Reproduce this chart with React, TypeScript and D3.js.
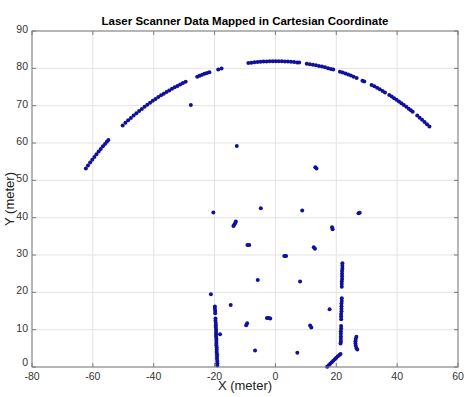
import React from "react";
import * as d3 from "d3";

// scanner readings, [x, y] in meters
const arcPoints: [number, number][] = [
  [-62.3, 53.16], [-61.6, 53.97], [-60.9, 54.76], [-60.2, 55.53], [-59.5, 56.28], [-58.8, 57.01],
  [-58.1, 57.72], [-57.4, 58.42], [-56.7, 59.1], [-56.0, 59.76], [-55.4, 60.32], [-54.9, 60.78],
  [-50.2, 64.71], [-49.3, 65.4], [-48.4, 66.07], [-47.5, 66.72], [-46.6, 67.35], [-45.7, 67.96],
  [-44.8, 68.56], [-43.9, 69.14], [-43.0, 69.7], [-42.1, 70.25], [-41.2, 70.78], [-40.3, 71.3],
  [-39.4, 71.8], [-38.5, 72.29], [-37.6, 72.76], [-36.7, 73.22], [-35.8, 73.66], [-34.9, 74.09],
  [-34.0, 74.51], [-33.1, 74.91], [-32.2, 75.3], [-31.3, 75.68], [-30.4, 76.05], [-29.5, 76.4],
  [-25.7, 77.76], [-24.9, 78.02], [-24.1, 78.27], [-23.3, 78.52], [-22.5, 78.75], [-21.7, 78.97],
  [-18.8, 79.71], [-17.7, 79.96],
  [-8.9, 81.42], [-7.9, 81.52], [-6.9, 81.61], [-5.9, 81.69], [-4.9, 81.75], [-3.9, 81.81],
  [-2.9, 81.85], [-1.9, 81.88], [-0.9, 81.9], [0.1, 81.9], [1.1, 81.89], [2.1, 81.87],
  [3.1, 81.84], [4.1, 81.8], [5.1, 81.74], [6.1, 81.67], [7.1, 81.59], [7.8, 81.53],
  [10.3, 81.25], [11.3, 81.12], [12.3, 80.97], [13.3, 80.81], [14.3, 80.64], [15.3, 80.46],
  [16.3, 80.26], [17.3, 80.05], [18.2, 79.85], [19.0, 79.67],
  [21.2, 79.11], [22.1, 78.86], [23.0, 78.6], [23.9, 78.34], [24.8, 78.06], [25.7, 77.76], [26.7, 77.43],
  [28.6, 76.7], [29.2, 76.5],
  [31.6, 75.56], [32.5, 75.18], [33.4, 74.78], [34.3, 74.37], [35.2, 73.95], [36.0, 73.56],
  [37.4, 72.86], [38.2, 72.45], [39.0, 72.02], [39.8, 71.58], [40.6, 71.13], [41.4, 70.67],
  [42.2, 70.19], [43.0, 69.7], [43.8, 69.2], [44.5, 68.76], [45.1, 68.36],
  [46.6, 67.35], [47.4, 66.79], [48.2, 66.21], [49.0, 65.62], [49.8, 65.02], [50.6, 64.4],
];

const leftWall: [number, number][] = [
  [-19.9, 16.2], [-19.9, 15.6], [-19.8, 15.0], [-19.8, 14.4], [-19.7, 13.0], [-19.7, 12.4],
  [-19.6, 11.8], [-19.6, 11.2], [-19.6, 10.6], [-19.5, 10.0], [-19.5, 9.4], [-19.5, 8.8],
  [-19.5, 8.2], [-19.4, 7.6], [-19.4, 7.0], [-19.4, 6.4], [-19.4, 5.8], [-19.3, 5.2],
  [-19.3, 4.6], [-19.3, 4.0], [-19.2, 3.4], [-19.2, 2.8], [-19.2, 2.2], [-19.1, 1.6],
  [-19.1, 1.0], [-19.1, 0.4],
];

const rightWall: [number, number][] = [
  [22.0, 27.8], [22.0, 27.1], [22.0, 26.4], [21.9, 25.7], [21.9, 25.0], [21.9, 24.3],
  [21.9, 23.6], [21.8, 22.9], [21.8, 22.2], [21.8, 21.5],
  [21.8, 18.4], [21.8, 17.7], [21.7, 17.0], [21.7, 16.3], [21.7, 15.6], [21.7, 14.9],
  [21.6, 14.2], [21.6, 13.5], [21.6, 12.8], [21.6, 11.0], [21.6, 10.3], [21.5, 9.6],
  [21.5, 8.9], [21.5, 8.2], [21.5, 7.5], [21.5, 6.8], [21.4, 6.3],
];

const diagonal: [number, number][] = [
  [17.0, 0.1], [17.5, 0.5], [18.0, 0.9], [18.5, 1.3], [19.0, 1.7],
  [19.5, 2.1], [20.0, 2.5], [20.5, 2.9], [21.0, 3.2], [21.4, 3.5],
];

const smallWall: [number, number][] = [
  [26.6, 8.1], [26.4, 7.5], [26.3, 6.9], [26.3, 6.3], [26.4, 5.7], [26.6, 5.1], [26.9, 4.7],
];

const objects: [number, number][] = [
  [-27.8, 70.2], [-12.7, 59.2], [13.1, 53.5], [13.5, 53.2],
  [-20.4, 41.4], [-4.8, 42.5], [8.8, 41.9], [27.3, 41.2], [27.7, 41.3],
  [-13.8, 37.8], [-13.5, 38.2], [-13.2, 38.6], [-13.0, 39.0],
  [18.6, 37.4], [18.8, 36.9], [-9.2, 32.7], [-8.6, 32.7], [12.6, 32.1], [13.0, 31.7],
  [2.9, 29.7], [3.5, 29.7], [-5.8, 23.3], [8.1, 22.9], [-21.2, 19.5], [-14.7, 16.6],
  [17.8, 15.5], [-9.6, 11.2], [-9.3, 11.7], [-2.8, 13.1], [-2.2, 13.1], [-1.7, 13.0],
  [11.4, 11.1], [11.8, 10.6], [-6.7, 4.4], [7.2, 3.8], [-18.2, 8.8],
];

const xTicks = [-80, -60, -40, -20, 0, 20, 40, 60];
const yTicks = [0, 10, 20, 30, 40, 50, 60, 70, 80, 90];

const W = 474;
const H = 397;
const margin = { top: 31, right: 16, bottom: 30, left: 32 };

export default function App() {
  const x = d3.scaleLinear().domain([-80, 60]).range([margin.left, W - margin.right]);
  const y = d3.scaleLinear().domain([0, 90]).range([H - margin.bottom, margin.top]);

  const all = [...arcPoints, ...leftWall, ...rightWall, ...diagonal, ...smallWall, ...objects];
  const font = "'Liberation Sans', Arial, Helvetica, sans-serif";
  const x0 = x(-80), x1 = x(60), y0 = y(0), y1 = y(90);

  return (
    <svg width={W} height={H} style={{ position: "absolute", left: 0, top: 0, background: "#fff" }}>
      {/* grid */}
      {xTicks.map((t) => (
        <line key={"gx" + t} x1={x(t)} x2={x(t)} y1={y1} y2={y0} stroke="#e3e3e3" strokeWidth={1} />
      ))}
      {yTicks.map((t) => (
        <line key={"gy" + t} x1={x0} x2={x1} y1={y(t)} y2={y(t)} stroke="#e3e3e3" strokeWidth={1} />
      ))}

      {/* points */}
      {all.map((d, i) => (
        <circle key={i} cx={x(d[0])} cy={y(d[1])} r={2} fill="#10109c" />
      ))}

      {/* box + inward ticks */}
      <rect x={x0} y={y1} width={x1 - x0} height={y0 - y1} fill="none" stroke="#7a7a7a" strokeWidth={1} />
      {xTicks.map((t) => (
        <g key={"tx" + t} stroke="#7a7a7a">
          <line x1={x(t)} x2={x(t)} y1={y0} y2={y0 - 4} />
          <line x1={x(t)} x2={x(t)} y1={y1} y2={y1 + 4} />
        </g>
      ))}
      {yTicks.map((t) => (
        <g key={"ty" + t} stroke="#7a7a7a">
          <line x1={x0} x2={x0 + 4} y1={y(t)} y2={y(t)} />
          <line x1={x1} x2={x1 - 4} y1={y(t)} y2={y(t)} />
        </g>
      ))}

      {/* tick labels */}
      {xTicks.map((t) => (
        <text key={"lx" + t} x={x(t)} y={y0 + 13} textAnchor="middle" fontFamily={font} fontSize={10.5} fill="#333">
          {t}
        </text>
      ))}
      {yTicks.map((t) => (
        <text
          key={"ly" + t}
          x={x0 - 4}
          y={y(t) + (t === 0 ? -1 : 2)}
          textAnchor="end"
          fontFamily={font}
          fontSize={10.5}
          fill="#333"
        >
          {t}
        </text>
      ))}

      {/* labels */}
      <text x={(x0 + x1) / 2} y={y0 + 23} textAnchor="middle" fontFamily={font} fontSize={13} fill="#222">
        X (meter)
      </text>
      <text
        transform={`translate(14,${(y0 + y1) / 2}) rotate(-90)`}
        textAnchor="middle"
        fontFamily={font}
        fontSize={13}
        fill="#222"
      >
        Y (meter)
      </text>
      <text x={(x0 + x1) / 2} y={y1 - 6} textAnchor="middle" fontFamily={font} fontSize={11.5} fontWeight="bold" fill="#000">
        Laser Scanner Data Mapped in Cartesian Coordinate
      </text>
    </svg>
  );
}
